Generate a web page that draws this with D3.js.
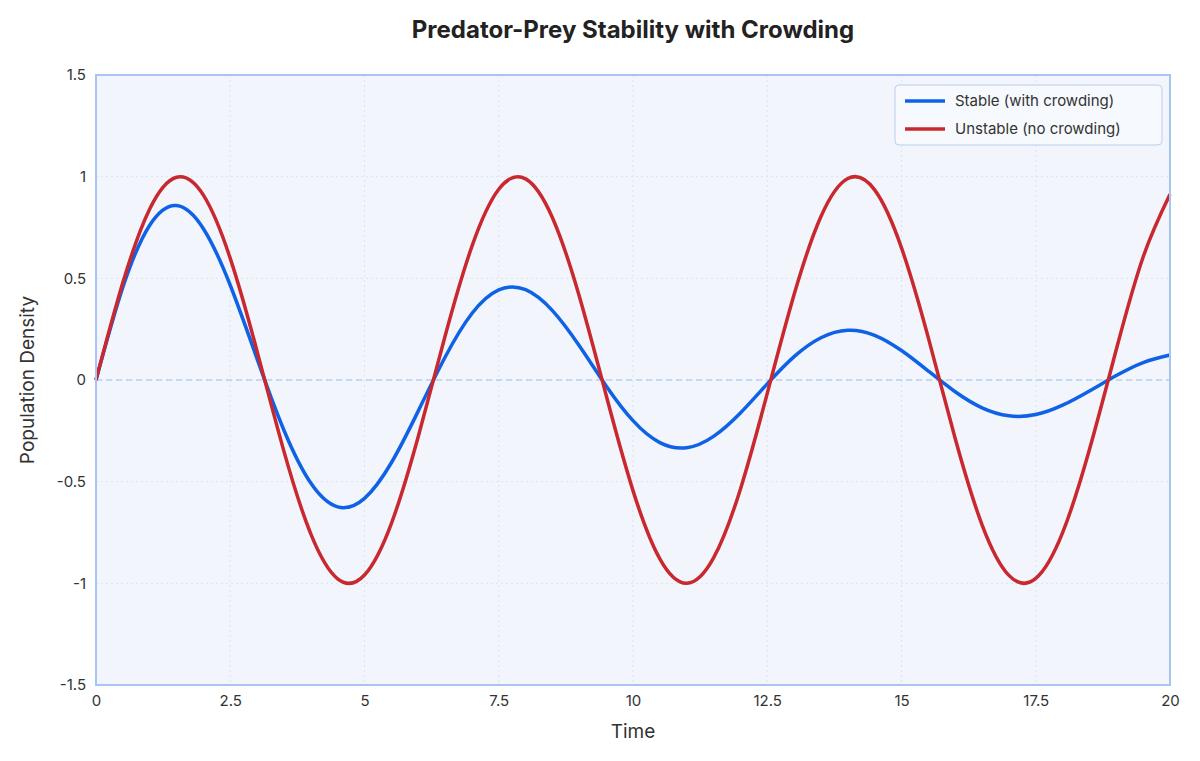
<!DOCTYPE html>
<html><head><meta charset="utf-8">
<script src="https://cdn.jsdelivr.net/npm/d3@7"></script>
<style>body{margin:0;background:#fff;font-family:Inter,"Noto Sans",sans-serif;}</style>
</head><body><svg id="c" width="1200" height="761"></svg>
<script>
const times = [0,0.5,1,1.5,2,2.5,3,3.5,4,4.5,5,5.5,6,6.5,7,7.5,8,8.5,9,9.5,10,10.5,11,11.5,12,12.5,13,13.5,14,14.5,15,15.5,16,16.5,17,17.5,18,18.5,19,19.5,20];
const stable = [0,.456,.761,.858,.744,.466,.104,-.247,-.507,-.624,-.582,-.407,-.153,.112,.327,.443,.444,.341,.168,-.029,-.200,-.308,-.333,-.277,-.162,-.019,.115,.208,.245,.220,.145,.044,-.058,-.137,-.176,-.170,-.124,-.054,.022,.086,.123];
const unstable = [0,.479,.841,.997,.909,.598,.141,-.351,-.757,-.978,-.959,-.706,-.279,.215,.657,.938,.989,.798,.412,-.075,-.544,-.880,-1.000,-.875,-.537,-.066,.420,.804,.991,.935,.650,.207,-.288,-.712,-.961,-.976,-.751,-.342,.150,.605,.913];
const xTicks = [0,2.5,5,7.5,10,12.5,15,17.5,20];
const yTicks = [-1.5,-1,-0.5,0,0.5,1,1.5];
const seriesNames = ["Stable (with crowding)","Unstable (no crowding)"];
const colors = ["#0f62e6","#c8282e"];

const svg = d3.select("#c");
const L=96,R=1170,T=75,B=685;
const x = d3.scaleLinear().domain([0,20]).range([L,R]);
const y = d3.scaleLinear().domain([-1.5,1.5]).range([B,T]);
svg.append("rect").attr("x",L).attr("y",T).attr("width",R-L).attr("height",B-T).attr("fill","#f2f6fc");
const g = svg.append("g");
xTicks.forEach(t=>g.append("line").attr("x1",x(t)).attr("x2",x(t)).attr("y1",T).attr("y2",B).attr("stroke","#dbe3ef").attr("stroke-dasharray","2,3"));
yTicks.forEach(t=>g.append("line").attr("x1",L).attr("x2",R).attr("y1",y(t)).attr("y2",y(t)).attr("stroke","#dbe3ef").attr("stroke-dasharray","2,3"));
g.append("line").attr("x1",L).attr("x2",R).attr("y1",y(0)).attr("y2",y(0)).attr("stroke","#b9cff0").attr("stroke-width",1.5).attr("stroke-dasharray","6,4");
const line = d3.line().x((d,i)=>x(times[i])).y(d=>y(d)).curve(d3.curveNatural);
[stable,unstable].forEach((s,k)=>svg.append("path").attr("d",line(s)).attr("fill","none").attr("stroke",colors[k]).attr("stroke-width",3.5));
svg.append("rect").attr("x",L).attr("y",T).attr("width",R-L).attr("height",B-T).attr("fill","none").attr("stroke","#a8c4f0").attr("stroke-width",2);
const xa = svg.append("g").attr("transform",`translate(0,${B})`).call(d3.axisBottom(x).tickValues(xTicks).tickFormat(d=>d).tickSize(0).tickPadding(10));
const ya = svg.append("g").attr("transform",`translate(${L},0)`).call(d3.axisLeft(y).tickValues(yTicks).tickFormat(d=>d).tickSize(0).tickPadding(10));
[xa,ya].forEach(a=>{a.select(".domain").remove();a.selectAll("text").attr("font-size",15).attr("fill","#333").attr("font-family","Inter");});
svg.append("text").attr("x",633).attr("y",38).attr("text-anchor","middle").attr("font-size",24).attr("font-weight",700).attr("fill","#222").text("Predator-Prey Stability with Crowding");
svg.append("text").attr("x",633).attr("y",738).attr("text-anchor","middle").attr("font-size",19).attr("fill","#333").text("Time");
svg.append("text").attr("transform",`translate(34,${(T+B)/2}) rotate(-90)`).attr("text-anchor","middle").attr("font-size",19).attr("fill","#333").text("Population Density");
const lg = svg.append("g").attr("transform","translate(895,85)");
lg.append("rect").attr("width",267).attr("height",60).attr("rx",4).attr("fill","#f6f9fd").attr("stroke","#b9cff0");
seriesNames.forEach((n,i)=>{
  lg.append("line").attr("x1",10).attr("x2",50).attr("y1",16+i*28).attr("y2",16+i*28).attr("stroke",colors[i]).attr("stroke-width",3.5);
  lg.append("text").attr("x",60).attr("y",21+i*28).attr("font-size",15).attr("fill","#333").text(n);
});
</script></body></html>
